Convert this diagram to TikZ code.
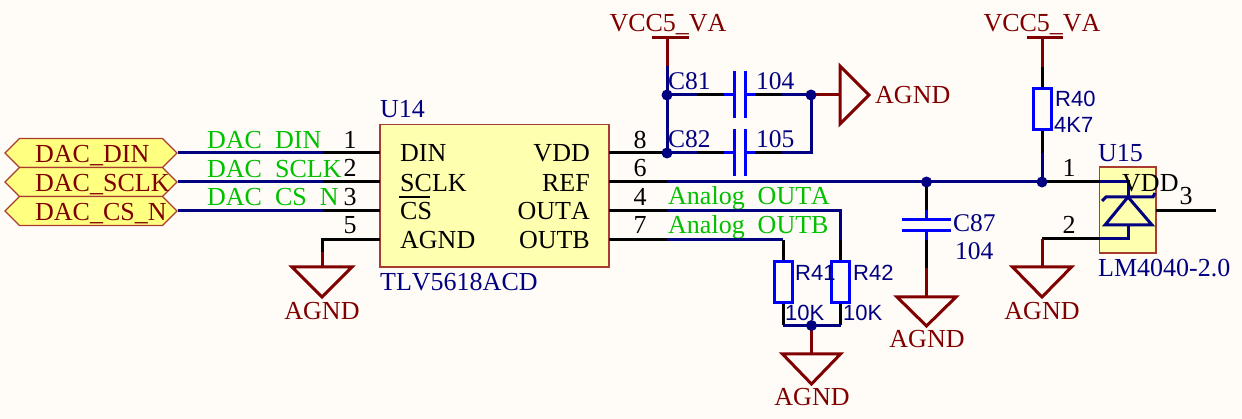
\documentclass[tikz,border=0pt]{standalone}
\usepackage{fontspec}
\setmainfont{Liberation Serif}[Kerning=Off]
\newfontfamily\labelsans{Liberation Sans}[Kerning=Off]
\usetikzlibrary{shapes.symbols}
\definecolor{sheetbg}{HTML}{FFFCF8}
\definecolor{partfill}{HTML}{FFFFB0}
\definecolor{portfill}{HTML}{FFFF80}
\definecolor{partedge}{HTML}{A83C30}
\definecolor{dkred}{HTML}{800000}
\definecolor{navy}{HTML}{000080}
\definecolor{brblue}{HTML}{0000FF}
\definecolor{netgreen}{HTML}{00C000}
\newcommand\netus{\textcolor{sheetbg}{\_}}
\tikzset{
    txt/.style={inner sep=0pt,anchor=base west,font=\fontsize{26}{26}\selectfont},
    pinnum/.style={txt,anchor=base,text=black},
    pinname/.style={txt,text=black},
    refdes/.style={txt,text=navy},
    capval/.style={txt,text=navy,font=\fontsize{25.5}{25.5}\selectfont},
    resval/.style={txt,text=navy,font=\labelsans\fontsize{22}{22}\selectfont},
    netname/.style={txt,text=netgreen},
    pwrname/.style={txt,anchor=base,text=dkred},
    portname/.style={txt,text=dkred},
    wire/.style={navy,line width=3pt},
    pinwire/.style={black,line width=3pt},
    leadwire/.style={brblue,line width=3pt},
    pwrwire/.style={dkred,line width=3pt},
    plate/.style={brblue,line width=3pt},
    gnd/.style={dkred,line width=3pt,line join=miter},
    resbox/.style={draw=brblue,line width=3pt,inner sep=0pt,minimum width=18pt,minimum height=41pt},
    chip/.style={draw=partedge,fill=partfill,line width=1.5pt,inner sep=0pt},
    port/.style={draw=partedge,fill=portfill,line width=1.2pt,shape=signal,signal to=west and east,
        signal pointer angle=90,inner sep=0pt,minimum width=172pt,minimum height=29pt},
}
\begin{document}
\begin{tikzpicture}[x=1pt,y=-1pt]
    \useasboundingbox (0,0) rectangle (1242,419);
    \fill[sheetbg] (0,0) rectangle (1242,419);

    % net names go under the wires
    \node[netname] (nDIN) at (207,148.5) {DAC\netus DIN};
    \node[netname] (nSCLK) at (207,177.5) {DAC\netus SCLK};
    \node[netname] (nCS) at (207,206) {DAC\netus CS\netus N};
    \node[netname] (nOUTA) at (668,205) {Analog\netus OUTA};
    \node[netname] (nOUTB) at (668,234) {Analog\netus OUTB};

    % parts
    \node[port] (pDIN) at (91,153) {};
    \node[port] (pSCLK) at (91,182) {};
    \node[port] (pCS) at (91,211) {};
    \node[portname] (tDIN) at (35,162.5) {DAC\_DIN};
    \node[portname] (tSCLK) at (35,191.5) {DAC\_SCLK};
    \node[portname] (tCS) at (35,220.5) {DAC\_CS\_N};
    \node[chip,minimum width=229pt,minimum height=142.5pt] (u14) at (494.5,196) {};
    \node[chip,minimum width=56.5pt,minimum height=86pt] (u15) at (1127.7,210) {};
    \node[resbox] (r40) at (1042,109.5) {};
    \node[resbox] (r41) at (783,282.5) {};
    \node[resbox] (r42) at (840.7,282.5) {};

    % left side of U14
    \coordinate (m1) at (323,153);
    \coordinate (m2) at (323,182);
    \coordinate (m3) at (323,211);
    \coordinate (m5) at (322,240);
    \coordinate (l1) at (380,153);
    \coordinate (l2) at (380,182);
    \coordinate (l3) at (380,211);
    \coordinate (l5) at (380,240);
    \coordinate (g5) at (322,267);
    \coordinate (g5m) at (322,252);
    \draw[wire] (pDIN.east) -- (m1);
    \draw[wire] (pSCLK.east) -- (m2);
    \draw[wire] (pCS.east) -- (m3);
    \draw[pinwire] (m1) -- (l1);
    \draw[pinwire] (m2) -- (l2);
    \draw[pinwire] (m3) -- (l3);
    \draw[pinwire] (l5) -- (m5) -- (g5m);
    \draw[pwrwire] (g5m) -- (g5);
    \draw[gnd] (g5) ++(-30,0) -- ++(60,0) -- ++(-30,30) -- cycle;

    % right side of U14
    \coordinate (r8) at (609,153);
    \coordinate (r6) at (609,182);
    \coordinate (r4) at (609,211);
    \coordinate (r7) at (609,240);
    \coordinate (j8) at (667,153);
    \coordinate (j6) at (667,182);
    \coordinate (j4) at (667,211);
    \coordinate (j7) at (667,240);
    \coordinate (j81) at (667,95);
    \coordinate (v1m) at (667,66);
    \coordinate (v1) at (667,38);
    \coordinate (k4) at (840.7,211);
    \coordinate (k4m) at (840.7,240);
    \coordinate (k7) at (783,240);
    \draw[pinwire] (r8) -- (j8);
    \draw[pinwire] (r6) -- (j6);
    \draw[pinwire] (r4) -- (j4);
    \draw[pinwire] (r7) -- (j7);
    \draw[wire] (j4) -- (k4) -- (k4m);
    \draw[wire] (j7) -- (k7);
    \draw[pinwire] (k4m) -- (r42.north);
    \draw[pinwire] (k7) -- (r41.north);

    % R41, R42 to ground
    \coordinate (b41) at (783,325.5);
    \coordinate (b42) at (840.7,325.5);
    \coordinate (jb) at (811.5,325.5);
    \coordinate (gb) at (811.5,354);
    \draw[pinwire] (r41.south) -- (b41);
    \draw[pinwire] (r42.south) -- (b42);
    \draw[wire] (b41) -- (b42);
    \draw[pwrwire] (jb) -- (gb);
    \draw[gnd] (gb) ++(-29,0) -- ++(58,0) -- ++(-29,30) -- cycle;
    \fill[navy] (jb) circle (5.5);

    % supply and decoupling caps
    \draw[pwrwire] (v1) -- (v1m);
    \draw[wire] (v1m) -- (j8);
    \draw[dkred,line width=3pt] (652,38) -- (689,38);
    \coordinate (a1) at (697,95);
    \coordinate (a2) at (724,95);
    \coordinate (a3) at (734.5,95);
    \coordinate (a4) at (745,95);
    \coordinate (a5) at (755,95);
    \coordinate (a6) at (782,95);
    \coordinate (j104) at (811,95);
    \coordinate (g104) at (840,95);
    \coordinate (b1) at (697,153);
    \coordinate (b2) at (724,153);
    \coordinate (b3) at (734.5,153);
    \coordinate (b4) at (745,153);
    \coordinate (b5) at (755,153);
    \coordinate (b6) at (782,153);
    \coordinate (k105) at (811,153);
    \draw[wire] (j81) -- (a1);
    \draw[pinwire] (a1) -- (a2);
    \draw[leadwire] (a2) -- (a3);
    \draw[leadwire] (a4) -- (a5);
    \draw[pinwire] (a5) -- (a6);
    \draw[wire] (a6) -- (j104);
    \draw[wire] (j8) -- (b1);
    \draw[pinwire] (b1) -- (b2);
    \draw[leadwire] (b2) -- (b3);
    \draw[leadwire] (b4) -- (b5);
    \draw[pinwire] (b5) -- (b6);
    \draw[wire] (b6) -- (k105) -- (j104);
    \draw[plate] (a3) ++(0,-23.5) -- ++(0,47);
    \draw[plate] (a4) ++(0,-23.5) -- ++(0,47);
    \draw[plate] (b3) ++(0,-23.5) -- ++(0,47);
    \draw[plate] (b4) ++(0,-23.5) -- ++(0,47);
    \draw[pwrwire] (j104) -- (g104);
    \draw[gnd] (g104) ++(0,-29) -- ++(0,58) -- ++(29,-29) -- cycle;
    \fill[navy] (j81) circle (5.5);
    \fill[navy] (j8) circle (5.5);
    \fill[navy] (j104) circle (5.5);

    % REF net with C87
    \coordinate (j87) at (926.5,182);
    \coordinate (j40) at (1042,182);
    \coordinate (c1) at (926.5,210);
    \coordinate (c2) at (926.5,219.5);
    \coordinate (c3) at (926.5,231);
    \coordinate (c4) at (926.5,240);
    \coordinate (c5) at (926.5,268);
    \coordinate (g87) at (926.5,297);
    \draw[wire] (j6) -- (j40);
    \draw[pinwire] (j87) -- (c1);
    \draw[leadwire] (c1) -- (c2);
    \draw[leadwire] (c3) -- (c4);
    \draw[pinwire] (c4) -- (c5);
    \draw[pwrwire] (c5) -- (g87);
    \draw[plate] (c2) ++(-24.5,0) -- ++(49,0);
    \draw[plate] (c3) ++(-24.5,0) -- ++(49,0);
    \draw[gnd] (g87) ++(-29.5,0) -- ++(59,0) -- ++(-29.5,29) -- cycle;
    \fill[navy] (j87) circle (5.5);

    % R40 and U15
    \coordinate (v2) at (1042,38);
    \coordinate (v2m) at (1042,67);
    \coordinate (w1) at (1042,153);
    \coordinate (d1) at (1099.5,182);
    \coordinate (d2) at (1128,182);
    \coordinate (d3) at (1128,197);
    \coordinate (d4) at (1128,225);
    \coordinate (d5) at (1128,239);
    \coordinate (d6) at (1099.5,239);
    \coordinate (e1) at (1042,239);
    \coordinate (g15) at (1042,267);
    \coordinate (o3) at (1156,211);
    \coordinate (o3e) at (1216,211);
    \draw[pwrwire] (v2) -- (v2m);
    \draw[dkred,line width=3pt] (1027,38) -- (1063,38);
    \draw[pinwire] (v2m) -- (r40.north);
    \draw[pinwire] (r40.south) -- (w1);
    \draw[wire] (w1) -- (j40);
    \draw[pinwire] (j40) -- (d1);
    \draw[wire] (d1) -- (d2) -- (d3);
    \draw[wire,line join=miter] (1102,201) -- (1106,197) -- (1153,197) -- (1155,193);
    \draw[wire,line join=miter] (d3) -- (1105,225) -- (1152,225) -- cycle;
    \draw[wire] (d4) -- (d5) -- (d6);
    \draw[pinwire] (d6) -- (e1);
    \draw[pwrwire] (e1) -- (g15);
    \draw[gnd] (g15) ++(-29.5,0) -- ++(59,0) -- ++(-29.5,30) -- cycle;
    \draw[pinwire] (o3) -- (o3e);
    \fill[navy] (j40) circle (5.5);

    % pin numbers
    \node[pinnum] (t1) at (350,148.5) {1};
    \node[pinnum] (t2) at (350,177) {2};
    \node[pinnum] (t3) at (350,205.5) {3};
    \node[pinnum] (t5) at (350,233.5) {5};
    \node[pinnum] (t8) at (640,148.5) {8};
    \node[pinnum] (t6) at (640,177) {6};
    \node[pinnum] (t4) at (640,205.5) {4};
    \node[pinnum] (t7) at (640,234) {7};
    \node[pinnum] (s1) at (1069,176.5) {1};
    \node[pinnum] (s2) at (1069,234) {2};
    \node[pinnum] (s3) at (1186,205) {3};

    % pin names of the parts
    \node[pinname] (iDIN) at (400,161.5) {DIN};
    \node[pinname] (iSCLK) at (400,191.5) {SCLK};
    \node[pinname] (iCS) at (400,220) {CS};
    \node[pinname] (iAGND) at (400,248.5) {AGND};
    \draw[black,line width=2.5pt] (399,197) -- (429.5,197);
    \node[pinname,anchor=base east] (iVDD) at (590,161.5) {VDD};
    \node[pinname,anchor=base east] (iREF) at (590,191.5) {REF};
    \node[pinname,anchor=base east] (iOUTA) at (590,220) {OUTA};
    \node[pinname,anchor=base east] (iOUTB) at (590,248.5) {OUTB};
    \node[pinname] (iVDD2) at (1122,191.5) {VDD};

    % designators and values
    \node[refdes] (lU14) at (380,118) {U14};
    \node[refdes] (lTLV) at (380,290.5) {TLV5618ACD};
    \node[refdes] (lU15) at (1098,161.5) {U15};
    \node[refdes] (lLM) at (1098,277) {LM4040-2.0};
    \node[capval] (lC81) at (668,90) {C81};
    \node[capval] (l104a) at (756,90) {104};
    \node[capval] (lC82) at (668,148) {C82};
    \node[capval] (l105) at (756,148) {105};
    \node[capval] (lC87) at (953,231.5) {C87};
    \node[capval] (l104b) at (955,259.5) {104};
    \node[resval] (lR40) at (1055,107) {R40};
    \node[resval] (l4K7) at (1054,133) {4K7};
    \node[resval] (lR41) at (795,280.5) {R41};
    \node[resval] (lR42) at (853,280.5) {R42};
    \node[resval] (l10Ka) at (785,321) {10K};
    \node[resval] (l10Kb) at (843,321) {10K};

    % power names
    \node[pwrname] (vA) at (668,32) {VCC5\_VA};
    \node[pwrname] (vB) at (1042,32) {VCC5\_VA};
    \node[pwrname] (gA) at (322,319.5) {AGND};
    \node[pwrname,anchor=base west] (gB) at (875,104) {AGND};
    \node[pwrname] (gC) at (927,348) {AGND};
    \node[pwrname] (gD) at (812,405) {AGND};
    \node[pwrname] (gE) at (1042,319.5) {AGND};
\end{tikzpicture}
\end{document}
